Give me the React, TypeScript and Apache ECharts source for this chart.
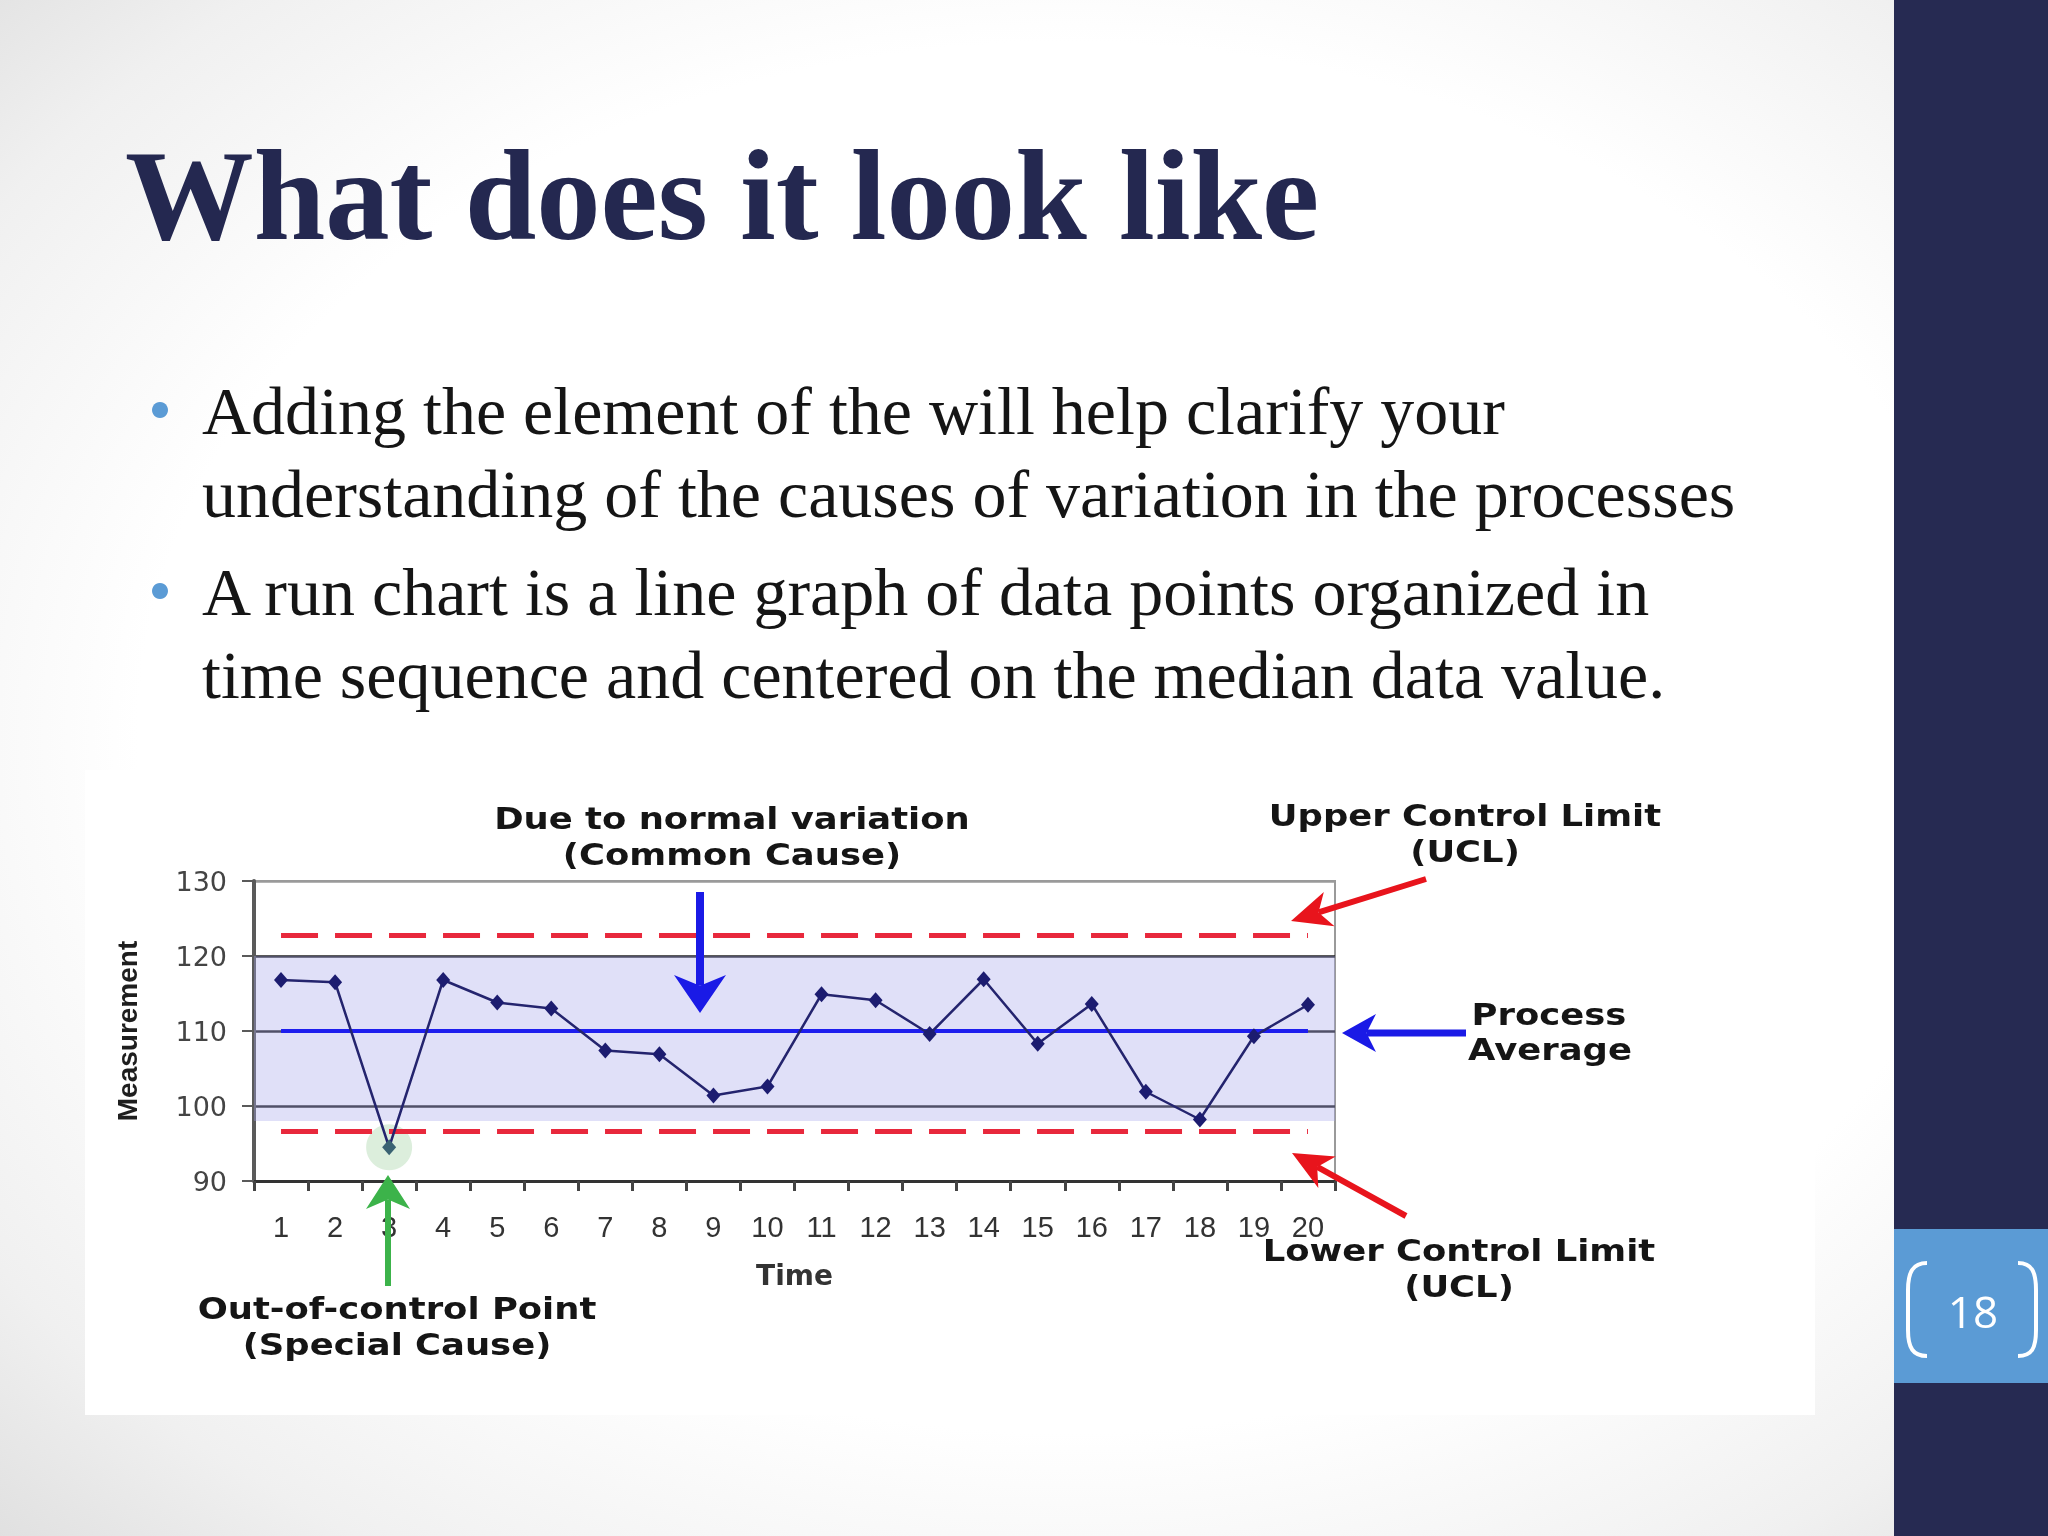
import React, { useEffect, useRef } from "react";
import * as echarts from "echarts";

// ---------- data ----------
const categories = ["1", "2", "3", "4", "5", "6", "7", "8", "9", "10", "11", "12", "13", "14", "15", "16", "17", "18", "19", "20"];
const measurements = [116.8, 116.5, 94.5, 116.8, 113.8, 113.0, 107.4, 106.9, 101.4, 102.6, 114.9, 114.1, 109.6, 116.9, 108.3, 113.6, 101.9, 98.2, 109.3, 113.5];
const processAverage = 110;
const upperControlLimit = 122.8;
const lowerControlLimit = 96.7;
const bandUpper = 120;
const bandLower = 98;
const yMin = 90;
const yMax = 130;
const yInterval = 10;
const outOfControlIndex = 2;

const titleText = "What does it look like";
const bulletLines = [
  ["Adding the element of the will help clarify your", "understanding of the causes of variation in the processes"],
  ["A run chart is a line graph of data points organized in", "time sequence and centered on the median data value."],
];
const pageNumber = "18";

let shapesRegistered = false;
function registerShapes() {
  if (shapesRegistered) return;
  shapesRegistered = true;
  echarts.graphic.registerShape(
    "bracketLeft",
    echarts.graphic.extendPath("M1927 1263 C1913 1263 1908 1272 1908 1290 L1908 1330 C1908 1348 1913 1356 1927 1356", {})
  );
  echarts.graphic.registerShape(
    "bracketRight",
    echarts.graphic.extendPath("M2018 1263 C2032 1263 2036 1272 2036 1290 L2036 1330 C2036 1348 2032 1356 2018 1356", {})
  );
}

function arrow(tail: number[], tip: number[], color: string, w: number, headLen: number, headHalf: number) {
  const dx = tip[0] - tail[0];
  const dy = tip[1] - tail[1];
  const L = Math.hypot(dx, dy);
  const ux = dx / L, uy = dy / L;
  const px = -uy, py = ux;
  const base = [tip[0] - ux * headLen, tip[1] - uy * headLen];
  const notch = [tip[0] - ux * headLen * 0.72, tip[1] - uy * headLen * 0.72];
  return [
    { type: "line", z: 100, shape: { x1: tail[0], y1: tail[1], x2: notch[0], y2: notch[1] }, style: { stroke: color, lineWidth: w } },
    {
      type: "polygon",
      z: 100,
      shape: { points: [tip, [base[0] + px * headHalf, base[1] + py * headHalf], notch, [base[0] - px * headHalf, base[1] - py * headHalf]] },
      style: { fill: color },
    },
  ];
}

function note(text: string, x: number, y: number) {
  return {
    type: "text",
    z: 100,
    x,
    y,
    scaleX: 1.18,
    style: {
      text,
      fontFamily: "DejaVu Sans",
      fontWeight: "bold",
      fontSize: 30,
      fill: "#151515",
      align: "center",
      verticalAlign: "middle",
    },
  };
}

export default function App() {
  const ref = useRef<HTMLDivElement>(null);

  useEffect(() => {
    if (!ref.current) return;
    registerShapes();
    const chart = echarts.init(ref.current, undefined, { renderer: "svg" });

    const lineData = measurements.map((v, i) =>
      i === outOfControlIndex ? { value: v, itemStyle: { color: "#3a6272" } } : v
    );
    const haloData = measurements.map((v, i) => (i === outOfControlIndex ? v : "-"));

    const bodyTexts: any[] = [];
    const baselines = [[435, 518], [616, 699]];
    bulletLines.forEach((para, pi) => {
      bodyTexts.push({
        type: "circle",
        z: 5,
        shape: { cx: 160, cy: baselines[pi][0] - 25, r: 8 },
        style: { fill: "#5b9bd5" },
      });
      para.forEach((line, li) => {
        bodyTexts.push({
          type: "text",
          z: 5,
          x: 202,
          y: baselines[pi][li] - 24,
          style: {
            text: line,
            fontFamily: "Liberation Serif",
            fontSize: 68,
            fill: "#151515",
            align: "left",
            verticalAlign: "middle",
          },
        });
      });
    });

    const option: any = {
      animation: false,
      grid: {
        left: 254,
        top: 881,
        width: 1081,
        height: 300,
        show: true,
        borderColor: "#9a9a9a",
        borderWidth: 2,
        backgroundColor: "transparent",
      },
      xAxis: {
        type: "category",
        data: categories,
        boundaryGap: true,
        name: "Time",
        nameLocation: "middle",
        nameGap: 80,
        nameTextStyle: { fontFamily: "DejaVu Sans", fontWeight: "bold", fontSize: 28, color: "#333" },
        axisLine: { lineStyle: { color: "#333", width: 3 } },
        axisTick: { show: true, length: 10, lineStyle: { color: "#444", width: 3 } },
        axisLabel: { fontFamily: "Liberation Sans", fontSize: 29, color: "#333", margin: 31, interval: 0 },
        splitLine: { show: false },
      },
      yAxis: {
        type: "value",
        min: yMin,
        max: yMax,
        interval: yInterval,
        name: "Measurement",
        nameLocation: "middle",
        nameRotate: 90,
        nameGap: 113,
        nameTextStyle: { fontFamily: "Liberation Sans", fontWeight: "bold", fontSize: 28, color: "#1e1e1e" },
        axisLine: { show: true, lineStyle: { color: "#5a5a5a", width: 4 } },
        axisTick: { show: true, length: 12, lineStyle: { color: "#5a5a5a", width: 2 } },
        axisLabel: { fontFamily: "DejaVu Sans", fontSize: 27, color: "#444", margin: 27 },
        splitLine: { show: true, lineStyle: { color: ["#333", "#222", "#222", "#222", "#9a9a9a"], width: 2.5 } },
      },
      series: [
        {
          type: "scatter",
          data: haloData,
          symbol: "circle",
          symbolSize: 46,
          itemStyle: { color: "rgba(140,200,140,0.38)" },
          z: 1,
          silent: true,
        },
        {
          type: "line",
          data: lineData,
          symbol: "diamond",
          symbolSize: [14, 16],
          itemStyle: { color: "#1c1c70" },
          lineStyle: { color: "#24246e", width: 2.5 },
          z: 5,
          markArea: {
            silent: true,
            itemStyle: { color: "rgba(165,165,235,0.35)" },
            data: [[{ yAxis: bandUpper }, { yAxis: bandLower }]],
          },
          markLine: {
            silent: true,
            symbol: ["none", "none"],
            label: { show: false },
            data: [
              [
                { xAxis: categories[0], yAxis: upperControlLimit, lineStyle: { color: "#e8283c", width: 5, type: [37, 17] } },
                { xAxis: categories[categories.length - 1], yAxis: upperControlLimit },
              ],
              [
                { xAxis: categories[0], yAxis: lowerControlLimit, lineStyle: { color: "#e8283c", width: 5, type: [37, 17] } },
                { xAxis: categories[categories.length - 1], yAxis: lowerControlLimit },
              ],
              [
                { xAxis: categories[0], yAxis: processAverage, lineStyle: { color: "#1e1eee", width: 4, type: "solid" } },
                { xAxis: categories[categories.length - 1], yAxis: processAverage },
              ],
            ],
          },
        },
      ],
      graphic: [
        // dark side band and page number box
        { type: "rect", z: -10, shape: { x: 1894, y: 0, width: 154, height: 1536 }, style: { fill: "#262a52" } },
        { type: "rect", z: -9, shape: { x: 1894, y: 1229, width: 154, height: 154 }, style: { fill: "#5b9bd5" } },
        { type: "bracketLeft", z: 10, x: 0, y: 0, style: { stroke: "#ffffff", lineWidth: 4, fill: "none" } },
        { type: "bracketRight", z: 10, x: 0, y: 0, style: { stroke: "#ffffff", lineWidth: 4, fill: "none" } },
        {
          type: "text",
          z: 10,
          x: 1973,
          y: 1311,
          style: { text: pageNumber, fontFamily: "Open Sans", fontSize: 44, fill: "#ffffff", align: "center", verticalAlign: "middle" },
        },
        // white chart image background
        { type: "rect", z: -10, shape: { x: 85, y: 770, width: 1730, height: 645 }, style: { fill: "#ffffff" } },
        // title
        {
          type: "text",
          z: 5,
          x: 125,
          y: 195,
          scaleX: 0.99,
          style: {
            text: titleText,
            fontFamily: "Liberation Serif",
            fontWeight: "bold",
            fontSize: 130,
            fill: "#242850",
            align: "left",
            verticalAlign: "middle",
          },
        },
        ...bodyTexts,
        // annotations
        note("Due to normal variation", 732, 819),
        note("(Common Cause)", 732, 855),
        note("Upper Control Limit", 1465, 816),
        note("(UCL)", 1465, 852),
        note("Process", 1549, 1015),
        note("Average", 1550, 1050),
        note("Lower Control Limit", 1459, 1251),
        note("(UCL)", 1459, 1287),
        note("Out-of-control Point", 397, 1309),
        note("(Special Cause)", 397, 1345),
        ...arrow([700, 892], [700, 1013], "#1a1ae6", 8, 38, 26),
        ...arrow([1466, 1033], [1342, 1033], "#1a1ae6", 7, 34, 19),
        ...arrow([388, 1286], [388, 1175], "#3cb34a", 6, 34, 22),
        ...arrow([1426, 879], [1291, 921], "#e8141c", 6, 40, 18),
        ...arrow([1406, 1216], [1292, 1153], "#e8141c", 6, 40, 18),
      ],
    };

    chart.setOption(option);
    return () => chart.dispose();
  }, []);

  return (
    <div
      style={{
        position: "fixed",
        left: 0,
        top: 0,
        width: 2048,
        height: 1536,
        background: "radial-gradient(ellipse 78% 78% at 52% 48%, #ffffff 58%, #f0f0f0 80%, #dadada 100%)",
      }}
    >
      <div ref={ref} style={{ width: 2048, height: 1536 }} />
    </div>
  );
}
